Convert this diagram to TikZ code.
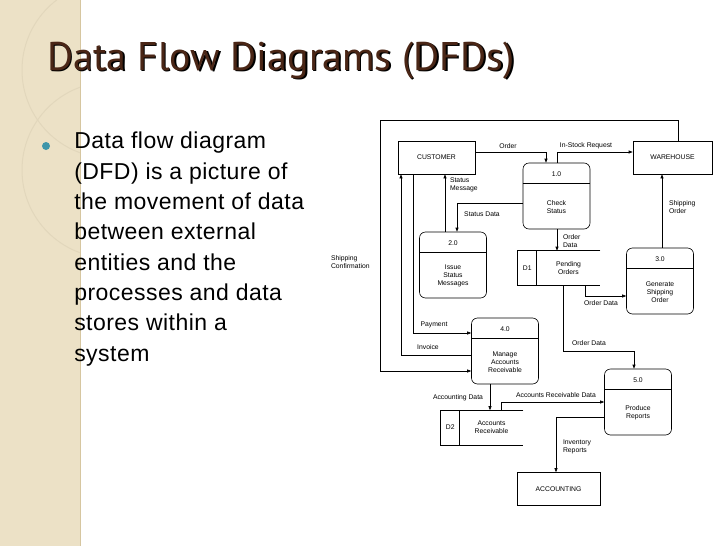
\documentclass[tikz,border=0pt]{standalone}
\usepackage{fontspec}
\setmainfont{Liberation Sans}
\newfontfamily\titlefont{PT Sans}
\newfontfamily\bodyfont[LetterSpace=2.0]{Liberation Sans}
\usetikzlibrary{arrows.meta}
\definecolor{beige}{RGB}{236,225,198}
\definecolor{tan}{RGB}{214,198,160}
\definecolor{brownish}{RGB}{74,38,22}
\definecolor{teal}{RGB}{62,150,170}
\tikzset{
	lbl/.style={font=\fontsize{6.8}{7.8}\selectfont, inner sep=0.75pt, align=left},
	proc/.style={draw, rounded corners=6pt, minimum width=67pt, minimum height=66pt, inner sep=0pt},
	ent/.style={draw, minimum height=33pt, inner sep=0pt, font=\fontsize{6.8}{7.8}\selectfont},
	store/.style={minimum width=82pt, minimum height=34pt, inner sep=0pt},
	flow/.style={-{Triangle[length=4pt,width=3pt]}, line width=0.6pt}
}
\begin{document}
\begin{tikzpicture}[x=1pt,y=-1pt,line width=0.6pt]
	\useasboundingbox (0,0) rectangle (728,546);
	% side strip
	\fill[beige] (0,0) rectangle (80,546);
	\begin{scope}
		\clip (0,0) rectangle (80,546);
		\draw[tan!70, line width=1pt] (110,70) circle (88);
		\draw[tan!70, line width=1pt] (110,170) circle (88);
	\end{scope}
	\draw[tan, line width=1pt] (80,0) -- (80,546);
	% title and text
	\node[anchor=west, inner sep=0pt, text=black, font=\titlefont\fontsize{40}{44}\selectfont] at (48.5,62) {Data Flow Diagrams (DFDs)};
	\node[anchor=west, inner sep=0pt, text=brownish, font=\titlefont\fontsize{40}{44}\selectfont] (title) at (47,60.5) {Data Flow Diagrams (DFDs)};
	\fill[teal] (46,146) circle (4);
	\node[anchor=north west, inner sep=0pt, align=left, font=\bodyfont\fontsize{23}{30.3}\selectfont] (body) at (74,132)
		{Data flow diagram\\(DFD) is a picture of\\the movement of data\\between external\\entities and the\\processes and data\\stores within a\\system};
	% external entities
	\node[ent, minimum width=77pt] (cust) at (436.5,157.5) {CUSTOMER};
	\node[ent, minimum width=79pt] (ware) at (672.5,157.5) {WAREHOUSE};
	\node[ent, minimum width=83pt] (acct) at (558.5,489) {ACCOUNTING};
	% processes
	\foreach \n/\x/\y/\num/\txt in {p1/556.5/196/1.0/{Check\\Status}, p2/453/265/2.0/{Issue\\Status\\Messages},
		p3/660/281/3.0/{Generate\\Shipping\\Order}, p4/505/351/4.0/{Manage\\Accounts\\Receivable}, p5/638/402/5.0/{Produce\\Reports}} {
		\node[proc] (\n) at (\x,\y) {};
		\draw ([yshift=-21pt]\n.north west) -- ([yshift=-21pt]\n.north east);
		\node[lbl] at ([yshift=-11pt]\n.north) {\num};
		\node[lbl, align=center] at ([yshift=-11pt]\n.center) {\txt};
	}
	% data stores
	\foreach \n/\x/\y/\id/\txt in {d1/559/268/D1/{Pending\\Orders}, d2/482/427.5/D2/{Accounts\\Receivable}} {
		\node[store] (\n) at (\x,\y) {};
		\draw (\n.north east) -- (\n.north west) -- (\n.south west) -- (\n.south east);
		\draw ([xshift=19pt]\n.north west) -- ([xshift=19pt]\n.south west);
		\node[lbl] at ([xshift=9.5pt]\n.west) {\id};
		\node[lbl, align=center] at ([xshift=9.5pt]\n.center) {\txt};
	}
	\coordinate (frame) at (380,120);
	% flows
	\draw[flow] ([yshift=5.5pt]cust.east) -| ([xshift=-10.5pt]p1.north);
	\draw[flow] ([xshift=0.5pt]p1.north) |- ([yshift=5.5pt]ware.west);
	\draw[flow] ([xshift=-8pt]p2.north) -- ([xshift=-8pt]p2.north |- cust.south);
	\draw[flow] ([yshift=-7pt]p1.west) -| ([xshift=4pt]p2.north);
	\draw[flow] ([xshift=0.5pt]p1.south) -- ([xshift=0.5pt]p1.south |- d1.north);
	\draw[flow] ([xshift=26pt]d1.south) |- ([yshift=-15pt]p3.west);
	\draw[flow] ([xshift=2pt]p3.north) -- ([xshift=2pt]p3.north |- ware.south);
	\draw[flow] ([xshift=4pt]d1.south) |- ([xshift=-4pt]p5.north |- p4.center) -- ([xshift=-4pt]p5.north);
	\draw[flow] ([xshift=-23.5pt]cust.south) |- ([yshift=18pt]p4.west);
	\draw[flow] ([yshift=-4pt]p4.west) -| ([xshift=-35.5pt]cust.south);
	\draw[flow] ([xshift=5.5pt]ware.north) |- (frame) |- ([yshift=-20pt]p4.west);
	\draw[flow] ([xshift=-15pt]p4.south) -- ([xshift=-15pt]p4.south |- d2.north);
	\draw[flow] ([xshift=19pt]d2.north) |- (p5.west);
	\draw[flow] ([yshift=-15pt]p5.west) -| ([xshift=-2.5pt]acct.north);
	% flow labels
	\node[lbl] at (508,146) {Order};
	\node[lbl] at (586,146) {In-Stock Request};
	\node[lbl, anchor=west] at (449,185) {Status\\Message};
	\node[lbl] at (482,214) {Status Data};
	\node[lbl, anchor=west] at (562,241) {Order\\Data};
	\node[lbl] at (601,303) {Order Data};
	\node[lbl, anchor=west] at (668,207) {Shipping\\Order};
	\node[lbl] at (589,343) {Order Data};
	\node[lbl, anchor=west] at (330,262) {Shipping\\Confirmation};
	\node[lbl] at (434,325) {Payment};
	\node[lbl] at (428,347) {Invoice};
	\node[lbl] at (458,398) {Accounting Data};
	\node[lbl] at (556,395) {Accounts Receivable Data};
	\node[lbl, anchor=west] at (562,447) {Inventory\\Reports};
\end{tikzpicture}
\end{document}
